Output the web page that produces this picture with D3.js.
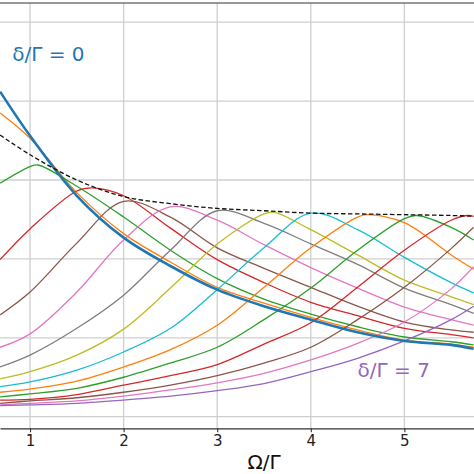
<!DOCTYPE html>
<html>
<head>
<meta charset="utf-8">
<script src="https://cdn.jsdelivr.net/npm/d3@7"></script>
<style>
  html, body { margin: 0; padding: 0; background: #fff; }
  svg { display: block; font-family: "DejaVu Sans", sans-serif; }
</style>
</head>
<body>
<svg width="474" height="474"></svg>
<script>
let width = 474;
let height = 474;

// sample positions along Ω/Γ
const omega = [0.68, 1, 1.5, 2, 2.5, 3, 3.5, 4, 4.5, 5, 5.5, 5.74];

// detunings δ/Γ, one curve each
const deltas = [0, 0.5, 1, 1.5, 2, 2.5, 3, 3.5, 4, 4.5, 5, 5.5, 6, 6.5, 7];

const d00 = [4.12, 3.56, 2.80, 2.27, 1.91, 1.61, 1.40, 1.23, 1.07, 0.96, 0.91, 0.86];
const d05 = [3.85, 3.53, 2.84, 2.32, 1.96, 1.64, 1.44, 1.26, 1.10, 0.97, 0.92, 0.88];
const d10 = [2.96, 3.17, 2.92, 2.53, 2.11, 1.75, 1.49, 1.30, 1.14, 1.01, 0.95, 0.91];
const d15 = [1.99, 2.38, 2.86, 2.80, 2.39, 1.99, 1.70, 1.45, 1.28, 1.12, 1.04, 1.00];
const d20 = [1.29, 1.58, 2.20, 2.73, 2.53, 2.14, 1.88, 1.64, 1.40, 1.20, 1.10, 1.07];
const d25 = [0.88, 1.05, 1.58, 2.24, 2.66, 2.49, 2.18, 1.89, 1.63, 1.39, 1.23, 1.16];
const d30 = [0.63, 0.78, 1.12, 1.54, 2.11, 2.61, 2.45, 2.19, 1.93, 1.63, 1.42, 1.31];
const d35 = [0.48, 0.57, 0.78, 1.11, 1.63, 2.19, 2.57, 2.37, 2.05, 1.73, 1.52, 1.42];
const d40 = [0.38, 0.44, 0.59, 0.82, 1.12, 1.61, 2.14, 2.58, 2.37, 2.02, 1.70, 1.57];
const d45 = [0.31, 0.35, 0.45, 0.63, 0.85, 1.16, 1.64, 2.14, 2.53, 2.46, 2.05, 1.87];
const d50 = [0.25, 0.29, 0.36, 0.50, 0.68, 0.88, 1.23, 1.63, 2.11, 2.51, 2.40, 2.24];
const d55 = [0.21, 0.22, 0.28, 0.40, 0.52, 0.66, 0.92, 1.19, 1.64, 2.11, 2.49, 2.54];
const d60 = [0.17, 0.20, 0.24, 0.31, 0.40, 0.52, 0.68, 0.88, 1.23, 1.64, 2.13, 2.40];
const d65 = [0.15, 0.17, 0.20, 0.26, 0.34, 0.43, 0.55, 0.72, 0.93, 1.20, 1.62, 1.90];
const d70 = [0.14, 0.15, 0.17, 0.21, 0.26, 0.33, 0.42, 0.57, 0.74, 0.96, 1.23, 1.40];

// maximum of each curve when it falls between two samples (null otherwise)
const peakOmega = [null, null, 1.085, 1.67, null, null, null, 3.61, null, 4.60, 5.13, 5.67, null, null, null];
const peakValue = [null, null, 3.19, 2.90, null, null, null, 2.59, null, 2.56, 2.55, 2.55, null, null, null];

// dashed envelope of the maxima
const envelope = [3.57, 3.32, 3.00, 2.79, 2.70, 2.64, 2.61, 2.58, 2.57, 2.56, 2.55, 2.54];

const series = [d00, d05, d10, d15, d20, d25, d30, d35, d40, d45, d50, d55, d60, d65, d70];

const xTicks = [1, 2, 3, 4, 5];
const yGrid = [0, 1, 2, 3, 4, 5];

const colors = ['#1f77b4', '#ff7f0e', '#2ca02c', '#d62728', '#8c564b', '#e377c2', '#7f7f7f',
                '#bcbd22', '#17becf', '#ff7f0e', '#2ca02c', '#d62728', '#8c564b', '#e377c2', '#9467bd'];

let x = d3.scaleLinear().domain([0.679, 5.744]).range([0, width]);
let y = d3.scaleLinear().domain([-0.147, 5.243]).range([428.3, 3]);

let svg = d3.select('svg');

svg.append('defs')
  .append('clipPath')
  .attr('id', 'plot')
  .append('rect')
    .attr('x', -10)
    .attr('y', y.range()[1])
    .attr('width', width + 20)
    .attr('height', y.range()[0] - y.range()[1])
  ;

// grid
svg.append('g')
  .attr('id', 'grid-v')
  .selectAll('line')
  .data(xTicks)
  .enter()
    .append('line')
    .attr('x1', d => x(d))
    .attr('x2', d => x(d))
    .attr('y1', y.range()[1])
    .attr('y2', y.range()[0])
    .attr('stroke', '#cfcfcf')
    .attr('stroke-width', 1.3)
  ;

svg.append('g')
  .attr('id', 'grid-h')
  .selectAll('line')
  .data(yGrid)
  .enter()
    .append('line')
    .attr('x1', 0)
    .attr('x2', width)
    .attr('y1', d => y(d))
    .attr('y2', d => y(d))
    .attr('stroke', '#cfcfcf')
    .attr('stroke-width', 1.3)
  ;

let line = d3.line()
  .x(d => x(d[0]))
  .y(d => y(d[1]))
  .curve(d3.curveCatmullRom.alpha(0.5))
  ;

let curves = series.map((vals, i) => {
  let pts = omega.map((o, j) => [o, vals[j]]);
  if (peakOmega[i] !== null) pts.push([peakOmega[i], peakValue[i]]);
  pts.sort((a, b) => a[0] - b[0]);
  return { delta: deltas[i], color: colors[i], pts: pts };
});

// draw the δ = 0 curve last so it sits on top
let order = curves.slice(1).concat([curves[0]]);

svg.append('g')
  .attr('id', 'curves')
  .attr('clip-path', 'url(#plot)')
  .selectAll('path')
  .data(order)
  .enter()
    .append('path')
    .attr('fill', 'none')
    .attr('stroke', d => d.color)
    .attr('stroke-width', d => d.delta === 0 ? 2.6 : 1.3)
    .attr('d', d => line(d.pts))
  ;

svg.append('path')
  .attr('clip-path', 'url(#plot)')
  .attr('fill', 'none')
  .attr('stroke', '#111')
  .attr('stroke-width', 1.3)
  .attr('stroke-dasharray', '4.5,2.5')
  .attr('d', line(omega.map((o, j) => [o, envelope[j]])))
  ;

// spines
svg.append('line')
  .attr('x1', 0).attr('x2', width)
  .attr('y1', y.range()[1]).attr('y2', y.range()[1])
  .attr('stroke', '#333').attr('stroke-width', 1.2)
  ;

let xAxis = svg.append('g')
  .attr('transform', `translate(0,${y.range()[0]})`)
  .call(d3.axisBottom(x).tickValues(xTicks).tickFormat(d3.format('d')).tickSize(4).tickSizeOuter(0))
  ;
xAxis.select('.domain').attr('stroke', '#333').attr('stroke-width', 1.2);
xAxis.selectAll('.tick line').attr('stroke', '#333').attr('stroke-width', 1.1);
xAxis.selectAll('.tick text')
  .attr('font-family', '"DejaVu Sans", sans-serif')
  .attr('font-size', 15)
  .attr('fill', '#222')
  ;

svg.append('text')
  .attr('x', x(3.5))
  .attr('y', 469)
  .attr('text-anchor', 'middle')
  .attr('font-size', 20)
  .attr('fill', '#111')
  .text('Ω/Γ')
  ;

// curve labels
svg.append('text')
  .attr('x', x(0.81))
  .attr('y', y(4.51))
  .attr('font-size', 20)
  .attr('fill', colors[0])
  .text('δ/Γ = 0')
  ;

svg.append('text')
  .attr('x', x(4.50))
  .attr('y', y(0.50))
  .attr('font-size', 20)
  .attr('fill', colors[14])
  .text('δ/Γ = 7')
  ;
</script>
</body>
</html>
